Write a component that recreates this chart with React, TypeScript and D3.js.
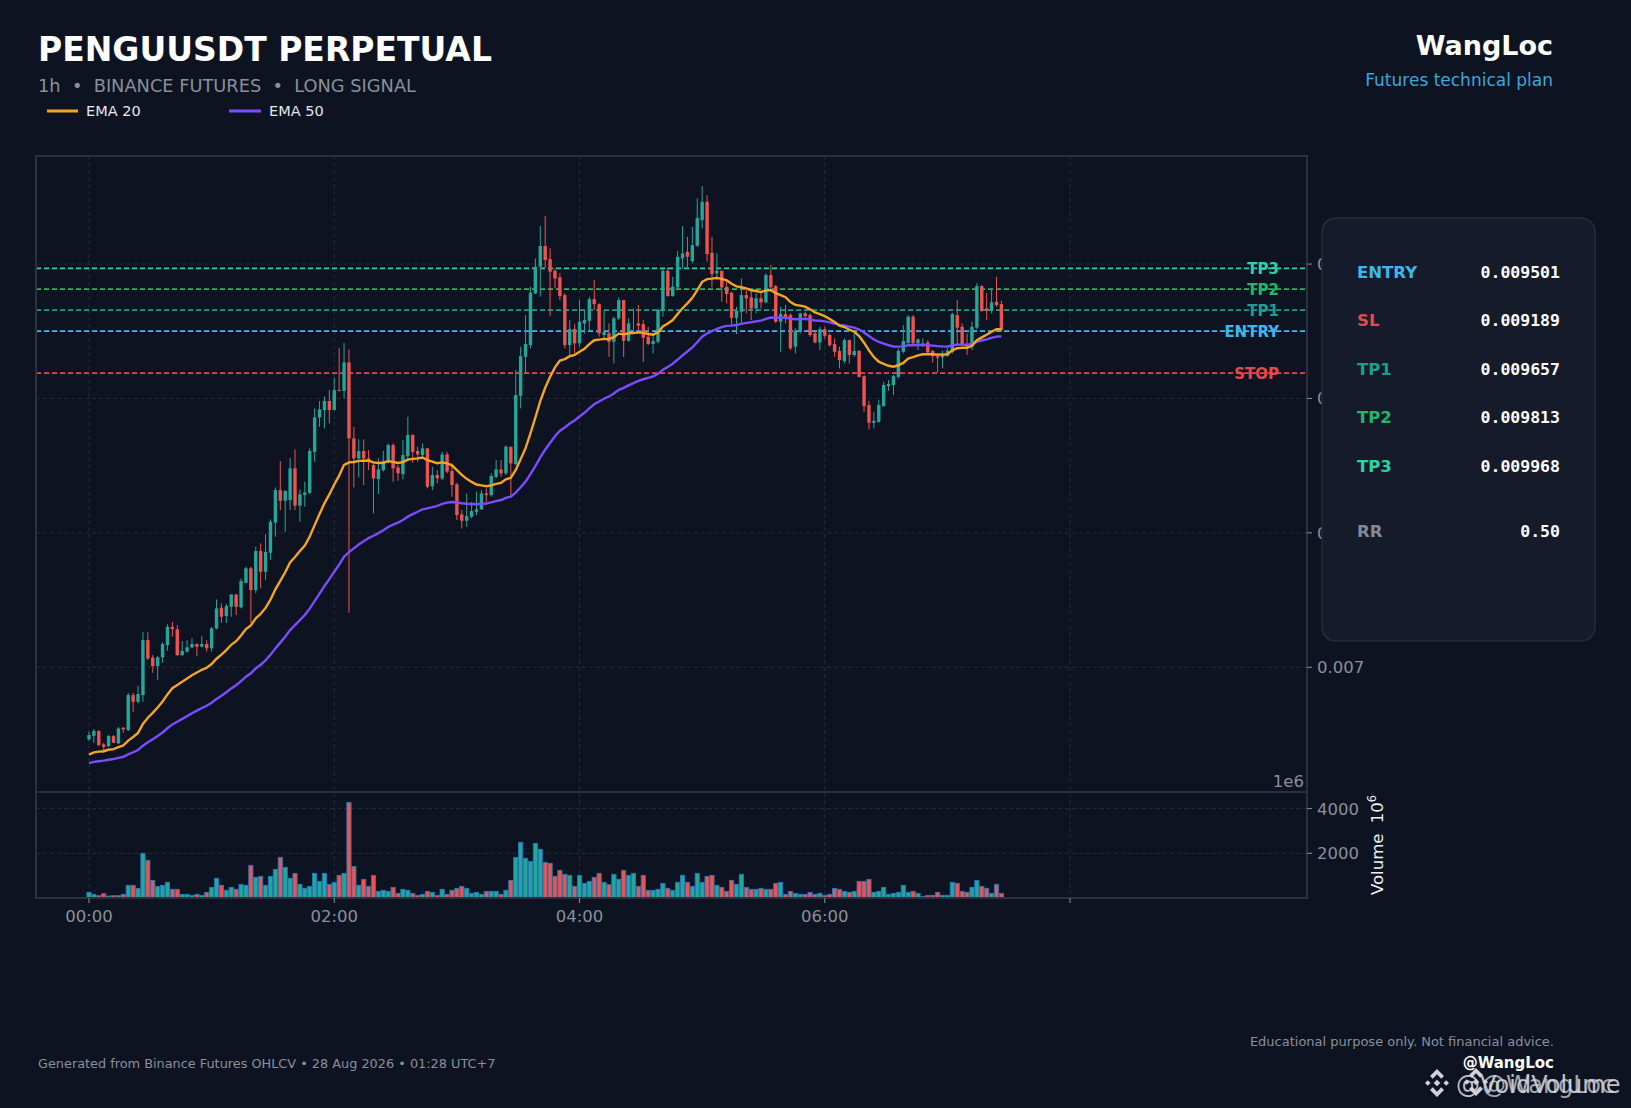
import React, { useEffect } from 'react';
import * as d3 from 'd3';

// OHLCV (price in USDT, volume in millions)
const opens = [
  0.006464, 0.006490, 0.006525, 0.006426, 0.006414, 0.006488, 0.006434, 0.006550, 0.006533, 0.006793,
  0.006743, 0.006793, 0.007202, 0.007071, 0.007009, 0.007074, 0.007165, 0.007301, 0.007282, 0.007091,
  0.007116, 0.007148, 0.007173, 0.007153, 0.007173, 0.007141, 0.007289, 0.007443, 0.007381, 0.007450,
  0.007542, 0.007446, 0.007628, 0.007736, 0.007574, 0.007865, 0.007711, 0.007852, 0.008075, 0.008318,
  0.008239, 0.008244, 0.008480, 0.008202, 0.008281, 0.008298, 0.008603, 0.008859, 0.008914, 0.008981,
  0.008914, 0.009062, 0.009057, 0.009268, 0.008703, 0.008554, 0.008609, 0.008554, 0.008504, 0.008400,
  0.008467, 0.008529, 0.008653, 0.008487, 0.008437, 0.008571, 0.008728, 0.008609, 0.008579, 0.008629,
  0.008348, 0.008430, 0.008405, 0.008584, 0.008460, 0.008361, 0.008138, 0.008090, 0.008120, 0.008157,
  0.008175, 0.008294, 0.008281, 0.008417, 0.008472, 0.008443, 0.008641, 0.008512, 0.009020, 0.009310,
  0.009397, 0.009782, 0.009980, 0.010134, 0.010037, 0.009950, 0.009901, 0.009769, 0.009397, 0.009516,
  0.009410, 0.009559, 0.009578, 0.009739, 0.009702, 0.009472, 0.009484, 0.009422, 0.009596, 0.009732,
  0.009429, 0.009489, 0.009559, 0.009553, 0.009459, 0.009405, 0.009422, 0.009658, 0.009950, 0.009762,
  0.009827, 0.010042, 0.010091, 0.010022, 0.010136, 0.010327, 0.010463, 0.010084, 0.009931, 0.009950,
  0.009831, 0.009786, 0.009600, 0.009645, 0.009769, 0.009752, 0.009670, 0.009745, 0.009715, 0.009918,
  0.009836, 0.009571, 0.009628, 0.009620, 0.009385, 0.009496, 0.009633, 0.009620, 0.009484, 0.009417,
  0.009516, 0.009472, 0.009405, 0.009353, 0.009278, 0.009434, 0.009323, 0.009353, 0.009166, 0.008951,
  0.008819, 0.008826, 0.008943, 0.009092, 0.009100, 0.009161, 0.009347, 0.009414, 0.009608, 0.009410,
  0.009397, 0.009417, 0.009353, 0.009315, 0.009305, 0.009318, 0.009347, 0.009620, 0.009533, 0.009405,
  0.009385, 0.009527, 0.009836, 0.009670, 0.009658, 0.009719, 0.009702,
];
const highs = [
  0.006520, 0.006540, 0.006533, 0.006436, 0.006496, 0.006496, 0.006555, 0.006555, 0.006808, 0.006810,
  0.006862, 0.007264, 0.007260, 0.007091, 0.007083, 0.007185, 0.007321, 0.007338, 0.007314, 0.007195,
  0.007202, 0.007215, 0.007178, 0.007232, 0.007202, 0.007301, 0.007505, 0.007475, 0.007470, 0.007542,
  0.007542, 0.007661, 0.007748, 0.007748, 0.007897, 0.007922, 0.007991, 0.008100, 0.008338, 0.008534,
  0.008318, 0.008559, 0.008621, 0.008324, 0.008380, 0.008629, 0.008926, 0.008981, 0.009013, 0.009062,
  0.009154, 0.009375, 0.009414, 0.009365, 0.008789, 0.008696, 0.008696, 0.008616, 0.008517, 0.008554,
  0.008611, 0.008666, 0.008666, 0.008504, 0.008690, 0.008864, 0.008735, 0.008641, 0.008666, 0.008629,
  0.008492, 0.008467, 0.008603, 0.008603, 0.008517, 0.008373, 0.008170, 0.008294, 0.008231, 0.008306,
  0.008318, 0.008331, 0.008443, 0.008542, 0.008542, 0.008653, 0.008641, 0.009211, 0.009385, 0.009620,
  0.009831, 0.010042, 0.010283, 0.010357, 0.010117, 0.009968, 0.009931, 0.009782, 0.009583, 0.009553,
  0.009732, 0.009658, 0.009757, 0.009881, 0.009707, 0.009658, 0.009559, 0.009608, 0.009752, 0.009732,
  0.009596, 0.009670, 0.009695, 0.009583, 0.009533, 0.009484, 0.009670, 0.009968, 0.009975, 0.009905,
  0.010097, 0.010283, 0.010203, 0.010277, 0.010489, 0.010580, 0.010513, 0.010203, 0.010079, 0.009950,
  0.009868, 0.009794, 0.009682, 0.009893, 0.009806, 0.009806, 0.009782, 0.009794, 0.009931, 0.009992,
  0.009844, 0.009682, 0.009695, 0.009633, 0.009521, 0.009638, 0.009645, 0.009633, 0.009509, 0.009533,
  0.009533, 0.009484, 0.009447, 0.009385, 0.009447, 0.009439, 0.009484, 0.009360, 0.009174, 0.008983,
  0.008901, 0.008988, 0.009124, 0.009137, 0.009174, 0.009373, 0.009546, 0.009620, 0.009620, 0.009447,
  0.009447, 0.009434, 0.009360, 0.009335, 0.009355, 0.009373, 0.009638, 0.009732, 0.009559, 0.009484,
  0.009571, 0.009858, 0.009844, 0.009786, 0.009806, 0.009905, 0.009727,
];
const lows = [
  0.006453, 0.006436, 0.006414, 0.006362, 0.006406, 0.006436, 0.006429, 0.006510, 0.006525, 0.006669,
  0.006731, 0.006743, 0.007054, 0.006959, 0.006905, 0.007033, 0.007123, 0.007227, 0.007083, 0.007083,
  0.007108, 0.007141, 0.007081, 0.007148, 0.007116, 0.007116, 0.007282, 0.007330, 0.007330, 0.007376,
  0.007388, 0.007438, 0.007624, 0.007330, 0.007550, 0.007587, 0.007649, 0.007798, 0.007971, 0.008170,
  0.008008, 0.008170, 0.008170, 0.008083, 0.008194, 0.008289, 0.008529, 0.008789, 0.008777, 0.008815,
  0.008914, 0.009055, 0.009001, 0.007406, 0.008338, 0.008413, 0.008356, 0.008467, 0.008145, 0.008289,
  0.008455, 0.008517, 0.008380, 0.008388, 0.008398, 0.008542, 0.008521, 0.008529, 0.008566, 0.008331,
  0.008318, 0.008368, 0.008393, 0.008443, 0.008269, 0.008095, 0.008033, 0.008045, 0.008108, 0.008132,
  0.008170, 0.008231, 0.008269, 0.008405, 0.008417, 0.008430, 0.008281, 0.008504, 0.008926, 0.009191,
  0.009373, 0.009777, 0.009757, 0.009975, 0.009613, 0.009819, 0.009732, 0.009373, 0.009323, 0.009335,
  0.009385, 0.009484, 0.009509, 0.009658, 0.009459, 0.009434, 0.009310, 0.009261, 0.009583, 0.009310,
  0.009422, 0.009484, 0.009484, 0.009273, 0.009397, 0.009335, 0.009410, 0.009608, 0.009757, 0.009757,
  0.009806, 0.009968, 0.009975, 0.010005, 0.010129, 0.010265, 0.010017, 0.009827, 0.009881, 0.009719,
  0.009707, 0.009546, 0.009479, 0.009559, 0.009633, 0.009583, 0.009633, 0.009670, 0.009707, 0.009806,
  0.009562, 0.009347, 0.009559, 0.009360, 0.009335, 0.009484, 0.009583, 0.009459, 0.009410, 0.009360,
  0.009447, 0.009385, 0.009310, 0.009224, 0.009261, 0.009261, 0.009310, 0.009156, 0.008901, 0.008770,
  0.008777, 0.008819, 0.008938, 0.009057, 0.009025, 0.009149, 0.009335, 0.009397, 0.009397, 0.009360,
  0.009385, 0.009335, 0.009266, 0.009191, 0.009224, 0.009310, 0.009335, 0.009397, 0.009385, 0.009323,
  0.009360, 0.009514, 0.009645, 0.009583, 0.009633, 0.009682, 0.009496,
];
const closes = [
  0.006496, 0.006525, 0.006421, 0.006408, 0.006488, 0.006438, 0.006545, 0.006538, 0.006793, 0.006743,
  0.006801, 0.007202, 0.007066, 0.007009, 0.007074, 0.007173, 0.007301, 0.007284, 0.007091, 0.007121,
  0.007148, 0.007173, 0.007153, 0.007173, 0.007141, 0.007289, 0.007438, 0.007376, 0.007455, 0.007542,
  0.007450, 0.007641, 0.007736, 0.007574, 0.007865, 0.007711, 0.007859, 0.008083, 0.008318, 0.008239,
  0.008311, 0.008480, 0.008202, 0.008286, 0.008301, 0.008609, 0.008859, 0.008919, 0.008981, 0.008914,
  0.009062, 0.009055, 0.009268, 0.008703, 0.008554, 0.008609, 0.008554, 0.008536, 0.008405, 0.008472,
  0.008536, 0.008653, 0.008480, 0.008443, 0.008579, 0.008728, 0.008603, 0.008584, 0.008629, 0.008343,
  0.008430, 0.008405, 0.008584, 0.008455, 0.008356, 0.008132, 0.008090, 0.008125, 0.008162, 0.008175,
  0.008294, 0.008281, 0.008423, 0.008472, 0.008443, 0.008641, 0.008517, 0.009025, 0.009315, 0.009405,
  0.009786, 0.009980, 0.010134, 0.010030, 0.009943, 0.009893, 0.009762, 0.009397, 0.009516, 0.009410,
  0.009571, 0.009583, 0.009739, 0.009702, 0.009484, 0.009496, 0.009422, 0.009596, 0.009732, 0.009429,
  0.009559, 0.009496, 0.009541, 0.009452, 0.009405, 0.009427, 0.009658, 0.009950, 0.009762, 0.009831,
  0.010054, 0.010079, 0.010054, 0.010141, 0.010344, 0.010463, 0.010074, 0.009925, 0.009950, 0.009827,
  0.009777, 0.009600, 0.009652, 0.009769, 0.009745, 0.009670, 0.009745, 0.009715, 0.009918, 0.009827,
  0.009571, 0.009628, 0.009603, 0.009373, 0.009504, 0.009633, 0.009613, 0.009472, 0.009417, 0.009516,
  0.009466, 0.009397, 0.009347, 0.009286, 0.009434, 0.009323, 0.009353, 0.009161, 0.008943, 0.008819,
  0.008834, 0.008951, 0.009100, 0.009107, 0.009166, 0.009353, 0.009427, 0.009608, 0.009410, 0.009439,
  0.009410, 0.009343, 0.009315, 0.009303, 0.009330, 0.009355, 0.009628, 0.009527, 0.009397, 0.009385,
  0.009533, 0.009836, 0.009652, 0.009652, 0.009715, 0.009695, 0.009509,
];
const volumes = [
  253, 164, 104, 194, 89, 104, 104, 164, 567, 567,
  432, 1998, 1685, 790, 522, 567, 701, 388, 388, 164,
  164, 119, 164, 119, 253, 477, 880, 567, 343, 477,
  388, 611, 567, 1461, 924, 969, 567, 969, 1282, 1819,
  1372, 880, 1103, 611, 432, 522, 1103, 745, 1103, 611,
  701, 1014, 1103, 4279, 1416, 567, 835, 522, 1014, 298,
  343, 298, 477, 209, 388, 343, 209, 119, 164, 298,
  253, 119, 388, 164, 343, 432, 522, 432, 209, 253,
  164, 298, 298, 298, 164, 343, 790, 1819, 2490, 1774,
  1640, 2445, 2177, 1595, 1551, 969, 1238, 1059, 1014, 522,
  1014, 656, 745, 924, 1103, 701, 596, 1059, 835, 1238,
  1014, 1103, 522, 1014, 343, 343, 388, 656, 432, 343,
  701, 1014, 701, 522, 1103, 701, 969, 1014, 567, 477,
  298, 790, 611, 1059, 477, 388, 388, 432, 388, 388,
  656, 701, 164, 298, 209, 164, 164, 253, 164, 209,
  119, 164, 432, 388, 298, 253, 298, 745, 745, 835,
  253, 298, 477, 164, 209, 253, 567, 253, 298, 209,
  75, 119, 119, 253, 119, 119, 701, 656, 298, 253,
  477, 790, 522, 432, 209, 611, 209,
];

// EMA values just before the first visible candle
const ema20Seed = 0.006335;
const ema50Seed = 0.006278;

const timeTicks = [0, 50, 100, 150, 200];
const timeLabels = ['00:00', '02:00', '04:00', '06:00', ''];
const priceTicks = [0.007, 0.008, 0.009, 0.01];
const volumeTicks = [2000, 4000];

const levelNames = ['TP3', 'TP2', 'TP1', 'ENTRY', 'STOP'];
const levelValues = [0.009968, 0.009813, 0.009657, 0.009501, 0.009189];
const levelColors = ['#2ad3a3', '#27b368', '#1f9d8d', '#3db8ec', '#e5484d'];

const planLabels = ['ENTRY', 'SL', 'TP1', 'TP2', 'TP3', 'RR'];
const planValues = ['0.009501', '0.009189', '0.009657', '0.009813', '0.009968', '0.50'];
const planColors = ['#3db8ec', '#e5484d', '#1f9d8d', '#27b368', '#2ad3a3', '#858b96'];

const W = 1631;
const H = 1108;
const BG = '#0d1320';
const UP = '#26a69a';
const DOWN = '#ef5350';
const GRID = '#262d39';
const FRAME = '#2b303b';
const MUTED = '#8a909b';
const FONT = '"DejaVu Sans", Verdana, sans-serif';
const MONO = '"DejaVu Sans Mono", monospace';

function ema(values: number[], period: number, seed: number) {
  const k = 2 / (period + 1);
  const out: number[] = [];
  let prev = seed;
  values.forEach(v => {
    prev = v * k + prev * (1 - k);
    out.push(prev);
  });
  return out;
}

const BinanceMark = ({ cx, cy, s, color }: { cx: number; cy: number; s: number; color: string }) => {
  const dia = (x: number, y: number, r: number) =>
    `M${cx + x},${cy + y - r}L${cx + x + r},${cy + y}L${cx + x},${cy + y + r}L${cx + x - r},${cy + y}Z`;
  const chevron = (dir: number) =>
    `M${cx},${cy + dir * s}L${cx + s * 0.5},${cy + dir * s * 0.5}L${cx + s * 0.3},${cy + dir * s * 0.3}` +
    `L${cx},${cy + dir * s * 0.62}L${cx - s * 0.3},${cy + dir * s * 0.3}L${cx - s * 0.5},${cy + dir * s * 0.5}Z`;
  return (
    <g fill={color}>
      <path d={dia(0, 0, s * 0.24)} />
      <path d={dia(-s * 0.66, 0, s * 0.2)} />
      <path d={dia(s * 0.66, 0, s * 0.2)} />
      <path d={chevron(-1)} />
      <path d={chevron(1)} />
    </g>
  );
};

export default function App() {
  useEffect(() => {
    document.body.style.margin = '0';
    document.body.style.background = BG;
  }, []);

  const left = 36;
  const right = 1307;
  const top = 156;
  const priceBottom = 792;
  const volBottom = 898;

  const x = d3.scaleLinear().domain([-10.8, 248.3]).range([left, right]);
  const y = d3.scaleLinear().domain([0.006072, 0.010804]).range([priceBottom, top]);
  const yv = d3.scaleLinear().domain([0, 4743]).range([volBottom, priceBottom]);

  const idx = d3.range(closes.length);
  const ema20 = ema(closes, 20, ema20Seed);
  const ema50 = ema(closes, 50, ema50Seed);
  const line = d3.line<number>().x((_, i) => x(i)).y(v => y(v));

  const bodyW = 3.4;
  const barW = 4.2;

  return (
    <svg width={W} height={H} style={{ display: 'block', background: BG }} fontFamily={FONT}>
      <rect x={0} y={0} width={W} height={H} fill={BG} />

      {/* header */}
      <text x={38} y={61} fill="#ffffff" fontSize={33} fontWeight="bold">PENGUUSDT PERPETUAL</text>
      <text x={38} y={92} fill={MUTED} fontSize={17.8} style={{ whiteSpace: 'pre' }}>
        {'1h  •  BINANCE FUTURES  •  LONG SIGNAL'}
      </text>
      <line x1={47} x2={78} y1={111} y2={111} stroke="#f5a524" strokeWidth={3} />
      <text x={86} y={116} fill="#e6e6e6" fontSize={14.5}>EMA 20</text>
      <line x1={229} x2={261} y1={111} y2={111} stroke="#7b4dff" strokeWidth={3} />
      <text x={269} y={116} fill="#e6e6e6" fontSize={14.5}>EMA 50</text>

      <text x={1553} y={55} fill="#ffffff" fontSize={27} fontWeight="bold" textAnchor="end">WangLoc</text>
      <text x={1553} y={86} fill="#3fa7dc" fontSize={17} textAnchor="end">Futures technical plan</text>

      {/* grid */}
      {timeTicks.map(t => (
        <line key={'gx' + t} x1={x(t)} x2={x(t)} y1={top} y2={volBottom} stroke={GRID} strokeDasharray="4,3" />
      ))}
      {priceTicks.map(p => (
        <line key={'gy' + p} x1={left} x2={right} y1={y(p)} y2={y(p)} stroke={GRID} strokeDasharray="4,3" />
      ))}
      {volumeTicks.map(v => (
        <line key={'gv' + v} x1={left} x2={right} y1={yv(v)} y2={yv(v)} stroke={GRID} strokeDasharray="4,3" />
      ))}

      {/* levels */}
      {levelValues.map((v, i) => (
        <g key={'lv' + i}>
          <line x1={left} x2={right} y1={y(v)} y2={y(v)} stroke={levelColors[i]} strokeWidth={1.8} strokeDasharray="5,3" />
          <text x={1279} y={y(v) + 5.5} fill={levelColors[i]} fontSize={15} fontWeight="bold" textAnchor="end">
            {levelNames[i]}
          </text>
        </g>
      ))}

      {/* candles */}
      {idx.map(i => {
        const up = closes[i] >= opens[i];
        const c = up ? UP : DOWN;
        const y0 = y(Math.max(opens[i], closes[i]));
        const y1 = y(Math.min(opens[i], closes[i]));
        return (
          <g key={'c' + i}>
            <line x1={x(i)} x2={x(i)} y1={y(highs[i])} y2={y(lows[i])} stroke={c} strokeWidth={1} />
            <rect x={x(i) - bodyW / 2} y={y0} width={bodyW} height={Math.max(1, y1 - y0)} fill={c} />
          </g>
        );
      })}

      {/* EMAs */}
      <path d={line(ema50) || ''} fill="none" stroke="#7b4dff" strokeWidth={2.4} />
      <path d={line(ema20) || ''} fill="none" stroke="#f5a524" strokeWidth={2.4} />

      {/* volume */}
      {idx.map(i => (
        <rect
          key={'v' + i}
          x={x(i) - barW / 2}
          y={yv(volumes[i])}
          width={barW}
          height={volBottom - yv(volumes[i])}
          fill={closes[i] >= opens[i] ? UP : DOWN}
          stroke="#2277bb"
          strokeWidth={0.9}
        />
      ))}

      {/* frames */}
      <rect x={left} y={top} width={right - left} height={volBottom - top} fill="none" stroke={FRAME} strokeWidth={2} />
      <line x1={left} x2={right} y1={priceBottom} y2={priceBottom} stroke={FRAME} strokeWidth={2} />

      {/* axes */}
      {timeTicks.map((t, i) => (
        <g key={'tx' + t}>
          <line x1={x(t)} x2={x(t)} y1={volBottom} y2={volBottom + 5} stroke={MUTED} />
          <text x={x(t)} y={922} fill={MUTED} fontSize={16.5} textAnchor="middle">{timeLabels[i]}</text>
        </g>
      ))}
      {priceTicks.map(p => (
        <g key={'ty' + p}>
          <line x1={right} x2={right + 5} y1={y(p)} y2={y(p)} stroke={MUTED} />
          <text x={1317} y={y(p) + 6} fill={MUTED} fontSize={16.5}>{d3.format('.3f')(p)}</text>
        </g>
      ))}
      {volumeTicks.map(v => (
        <g key={'tv' + v}>
          <line x1={right} x2={right + 5} y1={yv(v)} y2={yv(v)} stroke={MUTED} />
          <text x={1317} y={yv(v) + 6} fill={MUTED} fontSize={16.5}>{v}</text>
        </g>
      ))}
      <text x={1304} y={787} fill={MUTED} fontSize={16.5} textAnchor="end">1e6</text>
      <text transform="translate(1383,895) rotate(-90)" fill="#f0f0f0" fontSize={16.5} style={{ whiteSpace: 'pre' }}>
        {'Volume  10'}
        <tspan dy={-7} fontSize={11.5}>6</tspan>
      </text>

      {/* plan panel, drawn over the upper price labels as in the original */}
      <rect x={1322} y={218} width={273} height={423} rx={14} fill="#151b2a" stroke="#272d3b" strokeWidth={1.5} />
      {planLabels.map((l, i) => {
        const by = [278, 326, 375, 423, 472, 537][i];
        return (
          <g key={'p' + l}>
            <text x={1357} y={by} fill={planColors[i]} fontSize={16.5} fontWeight="bold">{l}</text>
            <text x={1560} y={by} fill="#ffffff" fontSize={16.5} fontWeight="bold" fontFamily={MONO} textAnchor="end">
              {planValues[i]}
            </text>
          </g>
        );
      })}

      {/* footer */}
      <text x={38} y={1068} fill={MUTED} fontSize={12.85}>
        Generated from Binance Futures OHLCV • 28 Aug 2026 • 01:28 UTC+7
      </text>
      <text x={1554} y={1046} fill={MUTED} fontSize={13} textAnchor="end">
        Educational purpose only. Not financial advice.
      </text>
      <BinanceMark cx={1437} cy={1083} s={14} color="#cfd2d6" />
      <BinanceMark cx={1476} cy={1082} s={14} color="#cfd2d6" />
      <text x={1456} y={1093} fill="#d2d5da" fontSize={24} opacity={0.9}>@VoidVolume</text>
      <text x={1482} y={1093} fill="#d2d5da" fontSize={24} opacity={0.75}>@WangLoc</text>
      <text x={1554} y={1068} fill="#ffffff" fontSize={15} fontWeight="bold" textAnchor="end">@WangLoc</text>
    </svg>
  );
}
